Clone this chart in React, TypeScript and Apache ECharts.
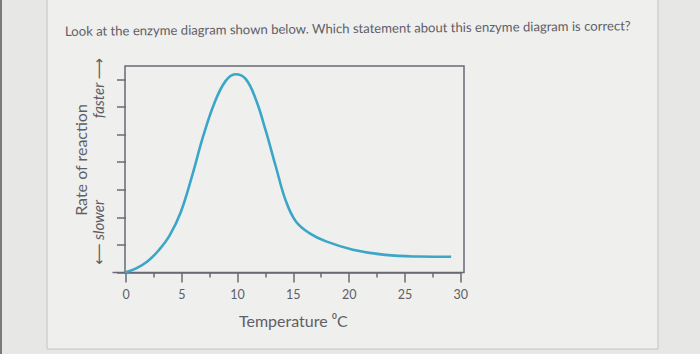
import React, { useEffect, useRef } from "react";
import * as echarts from "echarts";

// Temperature (°C) and relative rate of reaction
const temperature = [0, 1, 2, 3, 4, 5, 6, 7, 8, 9, 9.9, 10.8, 11.7, 12.6, 13.5, 14.4, 15.3, 16.5, 18, 20.4, 23.3, 26.3, 29.2];
const rate = [0, 0.15, 0.4, 0.8, 1.35, 2.2, 3.5, 4.95, 6.15, 6.95, 7.2, 7.03, 6.3, 5.15, 3.85, 2.6, 1.85, 1.43, 1.13, 0.83, 0.64, 0.58, 0.57];

// Axis ranges / ticks
const xTickMin = 0;
const xTickMax = 30;
const xTickInterval = 5;
const yTickMax = 7;
const yTickInterval = 1;
const xBoxMax = 30.35;
const yBoxMax = 7.5;

const titleText = "Look at the enzyme diagram shown below. Which statement about this enzyme diagram is correct?";
const yAxisTitle = "Rate of reaction";
const slowerText = "⟵ slower";
const fasterText = "faster ⟶";
const xAxisTitle = "Temperature ⁰C";

const FONT = 'Lato, "Open Sans", "DejaVu Sans", sans-serif';
const TEXT = "#5e5e68";
const AXIS = "#6a6a74";
const CURVE = "#3ba6c8";

export default function App() {
  const ref = useRef<HTMLDivElement>(null);
  useEffect(() => {
    if (!ref.current) return;
    const chart = echarts.init(ref.current, null, { renderer: "svg" });
    const data = temperature.map((t, i) => [t, rate[i]]);
    chart.setOption({
      animation: false,
      backgroundColor: "#e7e7e5",
      textStyle: { fontFamily: FONT },
      graphic: [
        { type: "rect", z: -10, shape: { x: 47, y: -5, width: 611, height: 354 }, style: { fill: "#efefed", stroke: "#c4c4c2", lineWidth: 1 } },
        { type: "rect", z: -10, shape: { x: 0, y: 0, width: 2, height: 354 }, style: { fill: "#7a7a7a" } },
        { type: "text", x: 65, y: 31, rotation: 0.0105, style: { text: titleText, font: `13.1px ${FONT}`, fill: TEXT, textVerticalAlign: "middle", textAlign: "left" } },
        { type: "text", x: 80, y: 160, rotation: Math.PI / 2, style: { text: yAxisTitle, font: `16px ${FONT}`, fill: TEXT, textAlign: "center", textVerticalAlign: "middle" } },
        { type: "text", x: 98, y: 265, rotation: Math.PI / 2, style: { text: slowerText, font: `italic 15px ${FONT}`, fill: TEXT, textAlign: "left", textVerticalAlign: "middle" } },
        { type: "text", x: 98, y: 58, rotation: Math.PI / 2, style: { text: fasterText, font: `italic 15px ${FONT}`, fill: TEXT, textAlign: "right", textVerticalAlign: "middle" } },
        { type: "line", shape: { x1: 112.5, y1: 272.5, x2: 126, y2: 272.5 }, style: { stroke: AXIS, lineWidth: 1.5 } },
      ],
      grid: [
        { left: 125, right: 236, top: 66, bottom: 81.5, show: true, borderColor: AXIS, borderWidth: 1.5, backgroundColor: "transparent" },
        { left: 126, right: 239.3, top: 79.3, bottom: 81.5 },
      ],
      xAxis: [
        { gridIndex: 0, type: "value", min: 0, max: xBoxMax, show: false },
        {
          gridIndex: 1, type: "value", min: xTickMin, max: xTickMax, interval: xTickInterval,
          name: xAxisTitle, nameLocation: "middle", nameGap: 40,
          nameTextStyle: { fontFamily: FONT, fontSize: 16, color: TEXT },
          axisLine: { show: true, lineStyle: { color: AXIS, width: 1.5 } },
          axisTick: { show: true, length: 10, lineStyle: { color: AXIS, width: 1.5 } },
          minorTick: { show: true, splitNumber: 2, length: 5, lineStyle: { color: AXIS, width: 1.5 } },
          splitLine: { show: false },
          axisLabel: { show: true, margin: 15, fontFamily: FONT, fontSize: 12.5, color: TEXT },
        },
      ],
      yAxis: [
        { gridIndex: 0, type: "value", min: 0, max: yBoxMax, show: false },
        {
          gridIndex: 1, type: "value", min: 0, max: yTickMax, interval: yTickInterval,
          axisLine: { show: false },
          axisTick: { show: true, length: 9, lineStyle: { color: AXIS, width: 1.5 } },
          splitLine: { show: false },
          axisLabel: { show: false },
        },
      ],
      series: [
        {
          type: "line", xAxisIndex: 0, yAxisIndex: 0, data, smooth: 0.4, showSymbol: false,
          lineStyle: { color: CURVE, width: 2.6 },
        },
      ],
    });
    return () => chart.dispose();
  }, []);
  return <div ref={ref} style={{ position: "fixed", left: 0, top: 0, width: 700, height: 354 }} />;
}
